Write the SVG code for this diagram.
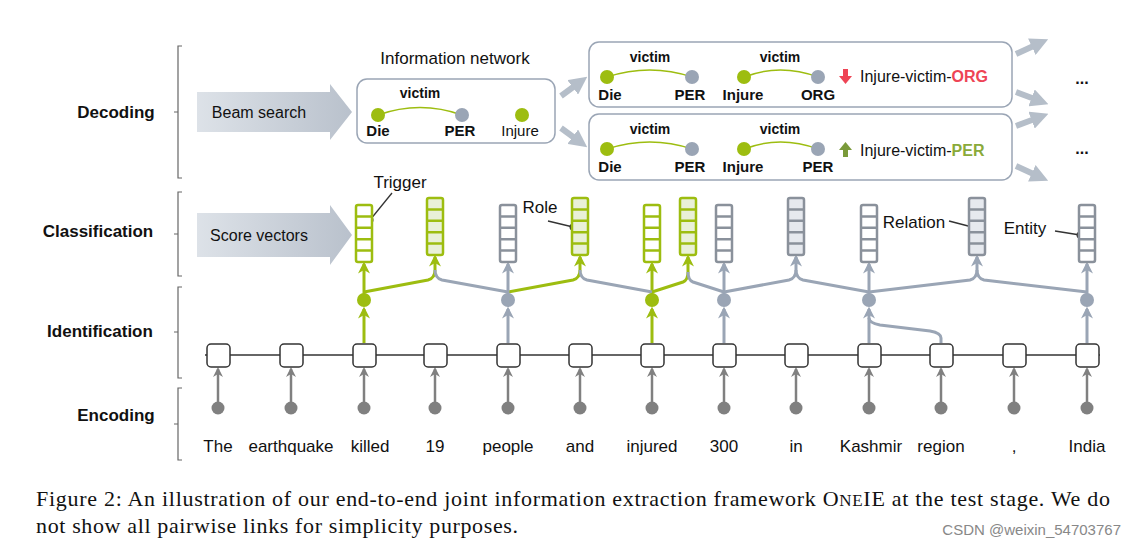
<svg xmlns="http://www.w3.org/2000/svg" width="1137" height="550" viewBox="0 0 1137 550">
<style>
text{font-family:"Liberation Sans",Arial,sans-serif;fill:#111}
.lab{font-size:17px;font-weight:bold}
.b{font-weight:bold}
.w{font-size:17px}
.g{stroke:#9aa5b5;stroke-width:3;fill:none}
.gr{stroke:#9dbd10;stroke-width:3;fill:none}
.box{fill:#fff;stroke:#333;stroke-width:1.5}
.vg{fill:#fff;stroke:#8a919b;stroke-width:2.5}
.vgf{fill:#e6e9ee;stroke:#8a919b;stroke-width:2.5}
.vy{fill:#fff;stroke:#9dbd10;stroke-width:2.5}
.vyf{fill:#e9f0d8;stroke:#9dbd10;stroke-width:2.5}
.brace{stroke:#666;stroke-width:1.2;fill:none}
.rb{fill:#fff;stroke:#9aa5b5;stroke-width:1.5}
.bigarrow{fill:url(#bg)}
</style>
<defs>
<linearGradient id="bg" x1="0" x2="1" y1="0" y2="0"><stop offset="0" stop-color="#dde2e8"/><stop offset="1" stop-color="#b9c1cc"/></linearGradient>
<marker id="ag" viewBox="0 0 10 10" refX="8" refY="5" markerWidth="4" markerHeight="4" orient="auto"><path d="M0,0 L10,5 L0,10 L3,5z" fill="#9aa5b5"/></marker>
<marker id="ay" viewBox="0 0 10 10" refX="8" refY="5" markerWidth="4" markerHeight="4" orient="auto"><path d="M0,0 L10,5 L0,10 L3,5z" fill="#9dbd10"/></marker>
<marker id="ad" viewBox="0 0 10 10" refX="8" refY="5" markerWidth="4" markerHeight="4" orient="auto"><path d="M0,0 L10,5 L0,10 L3,5z" fill="#808080"/></marker>
<marker id="ab" viewBox="0 0 10 10" refX="5" refY="5" markerWidth="3" markerHeight="3" orient="auto"><path d="M0,0 L10,5 L0,10z" fill="#b5bec9"/></marker>
</defs>

<g id="stage-labels">
<text class="lab" x="116" y="118" text-anchor="middle">Decoding</text>
<text class="lab" x="98" y="237" text-anchor="middle">Classification</text>
<text class="lab" x="100" y="337" text-anchor="middle">Identification</text>
<text class="lab" x="116" y="421" text-anchor="middle">Encoding</text>
<path class="brace" d="M182,46 h-4 v66 h-4 M178,112 v66 h4"/>
<path class="brace" d="M182,192 h-4 v42 h-4 M178,234 v42 h4"/>
<path class="brace" d="M182,287 h-4 v45 h-4 M178,332 v46 h4"/>
<path class="brace" d="M182,388 h-4 v36 h-4 M178,424 v36 h4"/>
</g>

<g id="beam-search">
<path class="bigarrow" d="M197,92 H330 V84 L352,112 L330,140 V132 H197z"/>
<text x="259" y="118" text-anchor="middle" font-size="16">Beam search</text>
</g>
<g id="score-vectors">
<path class="bigarrow" d="M197,213 H330 V205 L352,235 L330,265 V257 H197z"/>
<text x="259" y="241" text-anchor="middle" font-size="16">Score vectors</text>
</g>

<g id="info-network">
<text x="455" y="64" text-anchor="middle" font-size="17">Information network</text>
<rect class="rb" x="357" y="79" width="198" height="64" rx="10"/>
<text class="b" x="420" y="98" text-anchor="middle" font-size="14">victim</text>
<path d="M378,115 Q420,100 462,115" stroke="#9dbd10" stroke-width="1.5" fill="none"/>
<circle cx="378" cy="115" r="7" fill="#9dbd10"/><circle cx="462" cy="115" r="7" fill="#9aa5b5"/><circle cx="522" cy="115" r="7" fill="#9dbd10"/>
<text class="b" x="378" y="136" text-anchor="middle" font-size="15">Die</text>
<text class="b" x="460" y="136" text-anchor="middle" font-size="15">PER</text>
<text x="520" y="136" text-anchor="middle" font-size="15">Injure</text>
</g>

<g id="beam-arrows">
<line x1="561" y1="96" x2="580" y2="82" stroke="#b5bec9" stroke-width="6" marker-end="url(#ab)"/>
<line x1="561" y1="128" x2="580" y2="142" stroke="#b5bec9" stroke-width="6" marker-end="url(#ab)"/>
<line x1="1016" y1="54" x2="1040" y2="43" stroke="#b5bec9" stroke-width="6" marker-end="url(#ab)"/>
<line x1="1016" y1="92" x2="1040" y2="101" stroke="#b5bec9" stroke-width="6" marker-end="url(#ab)"/>
<line x1="1016" y1="126" x2="1040" y2="117" stroke="#b5bec9" stroke-width="6" marker-end="url(#ab)"/>
<line x1="1016" y1="166" x2="1040" y2="177" stroke="#b5bec9" stroke-width="6" marker-end="url(#ab)"/>
<text class="b" x="1082" y="84" text-anchor="middle" font-size="16">...</text>
<text class="b" x="1082" y="154" text-anchor="middle" font-size="16">...</text>
</g>

<g id="beam-top">
<rect class="rb" x="589" y="42" width="423" height="65" rx="10"/>
<text class="b" x="650" y="62" text-anchor="middle" font-size="14">victim</text>
<text class="b" x="780" y="62" text-anchor="middle" font-size="14">victim</text>
<path d="M607,77 Q650,63 692,77" stroke="#9dbd10" stroke-width="1.5" fill="none"/>
<path d="M744,77 Q780,63 818,77" stroke="#9dbd10" stroke-width="1.5" fill="none"/>
<circle cx="607" cy="77" r="7" fill="#9dbd10"/><circle cx="692" cy="77" r="7" fill="#9aa5b5"/>
<circle cx="744" cy="77" r="7" fill="#9dbd10"/><circle cx="818" cy="77" r="7" fill="#9aa5b5"/>
<text class="b" x="610" y="100" text-anchor="middle" font-size="15">Die</text>
<text class="b" x="690" y="100" text-anchor="middle" font-size="15">PER</text>
<text class="b" x="743" y="100" text-anchor="middle" font-size="15">Injure</text>
<text class="b" x="818" y="100" text-anchor="middle" font-size="15">ORG</text>
<path d="M843,69 h5 v7 h4 l-6.5,8 l-6.5,-8 h4z" fill="#ee4455"/>
<text x="860" y="82" font-size="16">Injure-victim-<tspan fill="#ee4455" font-weight="bold">ORG</tspan></text>
</g>

<g id="beam-bottom">
<rect class="rb" x="589" y="114" width="423" height="66" rx="10"/>
<text class="b" x="650" y="134" text-anchor="middle" font-size="14">victim</text>
<text class="b" x="780" y="134" text-anchor="middle" font-size="14">victim</text>
<path d="M607,149 Q650,135 692,149" stroke="#9dbd10" stroke-width="1.5" fill="none"/>
<path d="M744,149 Q780,135 818,149" stroke="#9dbd10" stroke-width="1.5" fill="none"/>
<circle cx="607" cy="149" r="7" fill="#9dbd10"/><circle cx="692" cy="149" r="7" fill="#9aa5b5"/>
<circle cx="744" cy="149" r="7" fill="#9dbd10"/><circle cx="818" cy="149" r="7" fill="#9aa5b5"/>
<text class="b" x="610" y="172" text-anchor="middle" font-size="15">Die</text>
<text class="b" x="690" y="172" text-anchor="middle" font-size="15">PER</text>
<text class="b" x="743" y="172" text-anchor="middle" font-size="15">Injure</text>
<text class="b" x="818" y="172" text-anchor="middle" font-size="15">PER</text>
<path d="M843,157 h5 v-7 h4 l-6.5,-8 l-6.5,8 h4z" fill="#7a9a3a"/>
<text x="860" y="156" font-size="16">Injure-victim-<tspan fill="#8aaa3a" font-weight="bold">PER</tspan></text>
</g>

<g id="connectors">
<line x1="205" y1="355" x2="1100" y2="355" stroke="#333" stroke-width="1.5"/>
<g stroke="#808080" stroke-width="2.5" marker-end="url(#ad)">
<line x1="218" y1="408" x2="218" y2="369"/><line x1="291" y1="408" x2="291" y2="369"/><line x1="364" y1="408" x2="364" y2="369"/>
<line x1="435" y1="408" x2="435" y2="369"/><line x1="508" y1="408" x2="508" y2="369"/><line x1="580" y1="408" x2="580" y2="369"/>
<line x1="652" y1="408" x2="652" y2="369"/><line x1="724" y1="408" x2="724" y2="369"/><line x1="796" y1="408" x2="796" y2="369"/>
<line x1="869" y1="408" x2="869" y2="369"/><line x1="941" y1="408" x2="941" y2="369"/><line x1="1014" y1="408" x2="1014" y2="369"/>
<line x1="1087" y1="408" x2="1087" y2="369"/>
</g>
<g class="gr">
<line x1="364" y1="343" x2="364" y2="309" marker-end="url(#ay)"/>
<line x1="652" y1="343" x2="652" y2="309" marker-end="url(#ay)"/>
<line x1="364" y1="294" x2="364" y2="264" marker-end="url(#ay)"/>
<line x1="652" y1="294" x2="652" y2="264" marker-end="url(#ay)"/>
<path d="M364,292 L428,280 Q435,278 435,270 L435,257" marker-end="url(#ay)"/>
<path d="M508,292 L573,280 Q580,278 580,270 L580,257" marker-end="url(#ay)"/>
<path d="M652,292 L683,282 Q688,280 688,272 L688,257" marker-end="url(#ay)"/>
</g>
<g class="g">
<line x1="508" y1="343" x2="508" y2="309" marker-end="url(#ag)"/>
<line x1="724" y1="343" x2="724" y2="309" marker-end="url(#ag)"/>
<line x1="869" y1="343" x2="869" y2="309" marker-end="url(#ag)"/>
<line x1="1087" y1="343" x2="1087" y2="309" marker-end="url(#ag)"/>
<line x1="508" y1="294" x2="508" y2="264" marker-end="url(#ag)"/>
<line x1="724" y1="294" x2="724" y2="264" marker-end="url(#ag)"/>
<line x1="869" y1="294" x2="869" y2="264" marker-end="url(#ag)"/>
<line x1="1087" y1="294" x2="1087" y2="264" marker-end="url(#ag)"/>
<path d="M508,292 L442,280 Q435,278 435,270"/>
<path d="M652,292 L587,280 Q580,278 580,270"/>
<path d="M724,292 L693,282 Q688,280 688,272"/>
<path d="M724,292 L789,280 Q796,278 796,270 L796,257" marker-end="url(#ag)"/>
<path d="M869,292 L803,280 Q796,278 796,270"/>
<path d="M869,292 L970,280 Q977,278 977,270 L977,257" marker-end="url(#ag)"/>
<path d="M1087,292 L984,280 Q977,278 977,270"/>
<path d="M941,343 L941,338 Q941,333 930,331 L880,325 Q869,323 869,318"/>
</g>
<g stroke="#333" stroke-width="1.3">
<line x1="392" y1="193" x2="370" y2="220"/><line x1="548" y1="221" x2="573" y2="227"/>
<line x1="949" y1="221" x2="972" y2="227"/><line x1="1055" y1="231" x2="1080" y2="235"/>
</g>
<g fill="#333"><circle cx="370" cy="220" r="3.5"/><circle cx="573" cy="227" r="3.5"/><circle cx="972" cy="227" r="3.5"/><circle cx="1080" cy="235" r="3.5"/></g>
</g>

<g id="annotation-labels" font-size="17">
<text x="400" y="188" text-anchor="middle" font-size="17">Trigger</text>
<text x="540" y="213" text-anchor="middle" font-size="17">Role</text>
<text x="914" y="228" text-anchor="middle" font-size="17">Relation</text>
<text x="1025" y="234" text-anchor="middle" font-size="17">Entity</text>
</g>

<g id="vectors">
<g class="vy"><rect x="356" y="205" width="16" height="57" rx="2"/><path d="M356,216.4h16M356,227.8h16M356,239.2h16M356,250.6h16"/></g>
<g class="vyf"><rect x="427" y="198" width="16" height="57" rx="2"/><path d="M427,209.4h16M427,220.8h16M427,232.2h16M427,243.6h16"/></g>
<g class="vg"><rect x="500" y="205" width="16" height="57" rx="2"/><path d="M500,216.4h16M500,227.8h16M500,239.2h16M500,250.6h16"/></g>
<g class="vyf"><rect x="572" y="198" width="16" height="57" rx="2"/><path d="M572,209.4h16M572,220.8h16M572,232.2h16M572,243.6h16"/></g>
<g class="vy"><rect x="644" y="205" width="16" height="57" rx="2"/><path d="M644,216.4h16M644,227.8h16M644,239.2h16M644,250.6h16"/></g>
<g class="vyf"><rect x="680" y="198" width="16" height="57" rx="2"/><path d="M680,209.4h16M680,220.8h16M680,232.2h16M680,243.6h16"/></g>
<g class="vg"><rect x="716" y="205" width="16" height="57" rx="2"/><path d="M716,216.4h16M716,227.8h16M716,239.2h16M716,250.6h16"/></g>
<g class="vgf"><rect x="788" y="198" width="16" height="57" rx="2"/><path d="M788,209.4h16M788,220.8h16M788,232.2h16M788,243.6h16"/></g>
<g class="vg"><rect x="861" y="205" width="16" height="57" rx="2"/><path d="M861,216.4h16M861,227.8h16M861,239.2h16M861,250.6h16"/></g>
<g class="vgf"><rect x="969" y="198" width="16" height="57" rx="2"/><path d="M969,209.4h16M969,220.8h16M969,232.2h16M969,243.6h16"/></g>
<g class="vg"><rect x="1079" y="205" width="16" height="57" rx="2"/><path d="M1079,216.4h16M1079,227.8h16M1079,239.2h16M1079,250.6h16"/></g>
</g>

<g id="id-dots">
<circle cx="364" cy="300" r="7" fill="#9dbd10"/><circle cx="652" cy="300" r="7" fill="#9dbd10"/>
<circle cx="508" cy="300" r="7" fill="#9aa5b5"/><circle cx="724" cy="300" r="7" fill="#9aa5b5"/>
<circle cx="869" cy="300" r="7" fill="#9aa5b5"/><circle cx="1087" cy="300" r="7" fill="#9aa5b5"/>
</g>

<g id="encoder">
<g class="box">
<rect x="207" y="344" width="23" height="23" rx="4"/><rect x="280" y="344" width="23" height="23" rx="4"/><rect x="353" y="344" width="23" height="23" rx="4"/>
<rect x="424" y="344" width="23" height="23" rx="4"/><rect x="497" y="344" width="23" height="23" rx="4"/><rect x="569" y="344" width="23" height="23" rx="4"/>
<rect x="641" y="344" width="23" height="23" rx="4"/><rect x="713" y="344" width="23" height="23" rx="4"/><rect x="785" y="344" width="23" height="23" rx="4"/>
<rect x="858" y="344" width="23" height="23" rx="4"/><rect x="930" y="344" width="23" height="23" rx="4"/><rect x="1003" y="344" width="23" height="23" rx="4"/>
<rect x="1076" y="344" width="23" height="23" rx="4"/>
</g>
<g fill="#808080">
<circle cx="218" cy="408" r="6.5"/><circle cx="291" cy="408" r="6.5"/><circle cx="364" cy="408" r="6.5"/><circle cx="435" cy="408" r="6.5"/>
<circle cx="508" cy="408" r="6.5"/><circle cx="580" cy="408" r="6.5"/><circle cx="652" cy="408" r="6.5"/><circle cx="724" cy="408" r="6.5"/>
<circle cx="796" cy="408" r="6.5"/><circle cx="869" cy="408" r="6.5"/><circle cx="941" cy="408" r="6.5"/><circle cx="1014" cy="408" r="6.5"/>
<circle cx="1087" cy="408" r="6.5"/>
</g>
</g>

<g id="tokens" class="w" text-anchor="middle">
<text class="w" x="218" y="452">The</text><text class="w" x="291" y="452">earthquake</text><text class="w" x="370" y="452">killed</text>
<text class="w" x="435" y="452">19</text><text class="w" x="508" y="452">people</text><text class="w" x="580" y="452">and</text>
<text class="w" x="652" y="452">injured</text><text class="w" x="724" y="452">300</text><text class="w" x="796" y="452">in</text>
<text class="w" x="871" y="452">Kashmir</text><text class="w" x="941" y="452">region</text><text class="w" x="1014" y="452">,</text>
<text class="w" x="1087" y="452">India</text>
</g>

<g id="caption">
<text x="36" y="506" style="font-family:'Liberation Serif','Times New Roman',serif" font-size="22" textLength="1074" lengthAdjust="spacing">Figure 2: An illustration of our end-to-end joint information extraction framework O<tspan font-size="17">NE</tspan>IE at the test stage. We do</text>
<text x="36" y="533" style="font-family:'Liberation Serif','Times New Roman',serif" font-size="22" textLength="482" lengthAdjust="spacing">not show all pairwise links for simplicity purposes.</text>
<text x="1121" y="535" text-anchor="end" font-size="15" style="fill:#888">CSDN @weixin_54703767</text>
</g>
</svg>
